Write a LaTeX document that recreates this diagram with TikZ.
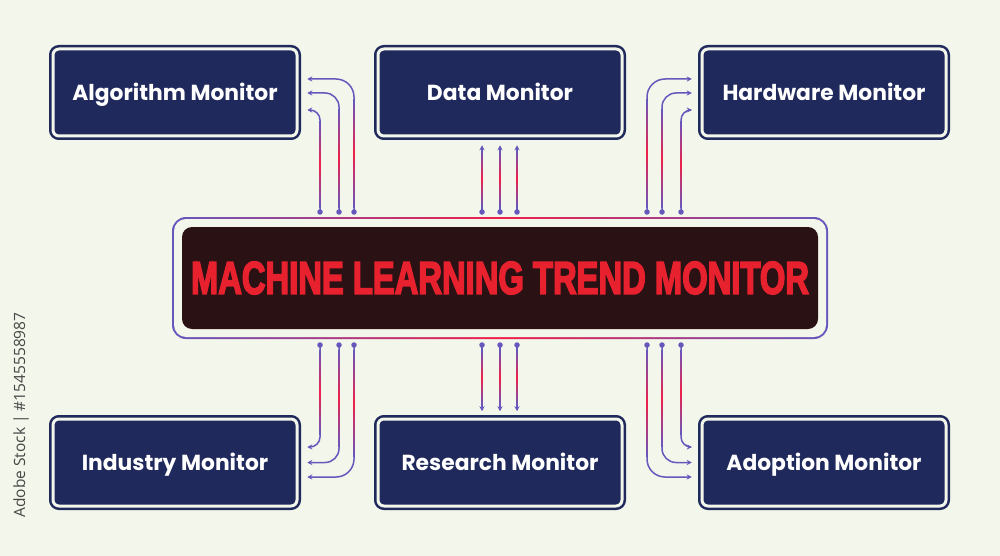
\documentclass[tikz,border=0pt]{standalone}
\usepackage{fontspec}
\usepackage{graphicx}
\setmainfont{Poppins}
\newfontfamily\titlefont[BoldFeatures={FakeBold=4}]{Liberation Sans}
\newfontfamily\wmfont{Open Sans}
\usetikzlibrary{arrows.meta,calc}
\definecolor{bg}{HTML}{F3F6EA}
\definecolor{navy}{HTML}{1F295B}
\definecolor{darkbox}{HTML}{2A1114}
\definecolor{titlered}{HTML}{E8212E}
\definecolor{lpurple}{HTML}{6757BD}
\definecolor{lred}{HTML}{F0204A}
\newcommand{\vgrad}[3]{\shade[top color=lpurple,bottom color=lpurple,middle color=lred] (#1-0.8,#2) rectangle (#1+0.8,#3);}
\begin{document}
\begin{tikzpicture}[x=1pt,y=-1pt,
  monbox/.style={draw=navy, double=bg, double distance=3pt, line width=2.5pt, fill=navy,
    rounded corners=6pt, minimum width=244pt, minimum height=87pt, inner sep=0pt,
    text=white, font=\bfseries\fontsize{21.8}{24}\selectfont, text height=15.2pt, text depth=0pt},
  conn/.style={draw=lpurple, line width=1.5pt, -{Stealth[length=5pt,width=5pt]}},
  dotc/.style={circle, fill=lpurple, inner sep=0pt, minimum size=5.5pt},
]
\fill[bg] (0,0) rectangle (1000,556);
\useasboundingbox (0,0) rectangle (1000,556);

% watermark id
\node[rotate=90, font=\wmfont\fontsize{15.5}{18}\selectfont, text=black!72] (wm) at (21,415) {Adobe Stock | \#1545558987};

% center ring
\shade[left color=lpurple, right color=lpurple, middle color=lred, rounded corners=14pt] (172,217) rectangle (828,339);
\fill[bg, rounded corners=12pt] (174,219) rectangle (826,337);
\node[fill=darkbox, rounded corners=10pt, minimum width=636pt, minimum height=102pt, inner sep=0pt, text=titlered] (ml) at (500,278)
  {\resizebox{618pt}{32pt}{\titlefont\bfseries MACHINE LEARNING TREND MONITOR}};

% boxes
\node[monbox] (alg) at (175,92.5) {Algorithm Monitor};
\node[monbox] (data) at (500,92.5) {Data Monitor};
\node[monbox] (hw) at (824,92.5) {Hardware Monitor};
\node[monbox] (ind) at (175,462.5) {Industry Monitor};
\node[monbox] (res) at (500,462.5) {Research Monitor};
\node[monbox] (adop) at (824,462.5) {Adoption Monitor};

% start points on ring
\foreach \n/\x in {1/320,2/339,3/354,4/482,5/500,6/517,7/647,8/662,9/681}{
  \coordinate (t\n) at (\x,212);
  \coordinate (b\n) at (\x,345);
}

% top-left
\draw[conn, rounded corners=18pt] (t3) |- ($(alg.east)+(9,-13.5)$);
\draw[conn, rounded corners=14pt] (t2) |- ($(alg.east)+(9,0.5)$);
\draw[conn, rounded corners=10pt] (t1) |- ($(alg.east)+(9,17.5)$);
\vgrad{354}{100}{207}\vgrad{339}{110}{207}\vgrad{320}{122}{207}
% top-middle
\draw[conn] (t4) -- (t4 |- {$(data.south)+(0,8)$});
\draw[conn] (t5) -- (t5 |- {$(data.south)+(0,8)$});
\draw[conn] (t6) -- (t6 |- {$(data.south)+(0,8)$});
\vgrad{482}{150}{207}\vgrad{500}{150}{207}\vgrad{517}{150}{207}
% top-right
\draw[conn, rounded corners=18pt] (t7) |- ($(hw.west)+(-9,-13.5)$);
\draw[conn, rounded corners=14pt] (t8) |- ($(hw.west)+(-9,0.5)$);
\draw[conn, rounded corners=10pt] (t9) |- ($(hw.west)+(-9,17.5)$);
\vgrad{647}{100}{207}\vgrad{662}{110}{207}\vgrad{681}{122}{207}
% bottom-left
\draw[conn, rounded corners=10pt] (b1) |- ($(ind.east)+(9,-15.5)$);
\draw[conn, rounded corners=14pt] (b2) |- ($(ind.east)+(9,0)$);
\draw[conn, rounded corners=18pt] (b3) |- ($(ind.east)+(9,14.5)$);
\vgrad{320}{350}{434}\vgrad{339}{350}{446}\vgrad{354}{350}{456}
% bottom-middle
\draw[conn] (b4) -- (b4 |- {$(res.north)+(0,-6.5)$});
\draw[conn] (b5) -- (b5 |- {$(res.north)+(0,-6.5)$});
\draw[conn] (b6) -- (b6 |- {$(res.north)+(0,-6.5)$});
\vgrad{482}{350}{405}\vgrad{500}{350}{405}\vgrad{517}{350}{405}
% bottom-right
\draw[conn, rounded corners=10pt] (b9) |- ($(adop.west)+(-9,-15.5)$);
\draw[conn, rounded corners=14pt] (b8) |- ($(adop.west)+(-9,0)$);
\draw[conn, rounded corners=18pt] (b7) |- ($(adop.west)+(-9,14.5)$);
\vgrad{681}{350}{434}\vgrad{662}{350}{446}\vgrad{647}{350}{456}

% dots
\foreach \n in {1,...,9}{
  \node[dotc] at (t\n) {};
  \node[dotc] at (b\n) {};
}
\end{tikzpicture}
\end{document}
